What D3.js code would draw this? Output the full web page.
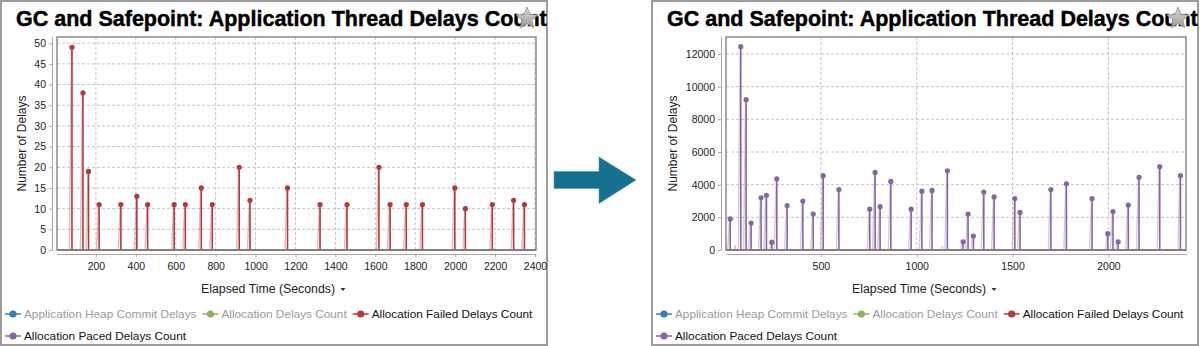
<!DOCTYPE html>
<html><head><meta charset="utf-8">
<script src="https://cdn.jsdelivr.net/npm/d3@7"></script>
<style>
html,body{margin:0;padding:0;background:#fff;}
svg{display:block;font-family:"Liberation Sans",Arial,sans-serif;}
</style></head>
<body>
<svg id="chart" width="1200" height="346"></svg>
<script>
// ---- data ----
const chartTitle = "GC and Safepoint: Application Thread Delays Count";
const xAxisTitle = "Elapsed Time (Seconds)";
const yAxisTitle = "Number of Delays";
const legendNames = ["Application Heap Commit Delays", "Allocation Delays Count", "Allocation Failed Delays Count", "Allocation Paced Delays Count"];
const legendActive = [false, false, true, true];
const legendRows = [[0, 1, 2], [3]];

// Left chart: Allocation Failed Delays Count
const failedTimes  = [80,135,163,216,325,405,459,592,648,728,783,918,972,1160,1323,1458,1618,1674,1755,1836,1998,2051,2186,2293,2347];
const failedCounts = [49,38,19,11,11,13,11,11,11,15,11,20,12,15,11,11,20,11,11,11,15,10,11,12,11];

// Right chart: Allocation Paced Delays Count
const pacedTimes  = [27,82,110,136,188,216,244,270,324,406,460,512,594,755,783,809,865,971,1027,1080,1160,1242,1268,1296,1350,1404,1512,1539,1700,1781,1915,1997,2024,2051,2104,2160,2268,2376];
const pacedCounts = [1900,12450,9200,1650,3200,3350,480,4350,2720,3000,2200,4550,3700,2500,4750,2650,4200,2500,3600,3650,4850,500,2200,850,3550,3250,3150,2300,3700,4050,3150,1000,2350,500,2750,4450,5100,4550];
const pacedMinorTimes  = [53,1134];
const pacedMinorCounts = [300,250];

const leftYTicks  = [0,5,10,15,20,25,30,35,40,45,50];
const leftXTicks  = [200,400,600,800,1000,1200,1400,1600,1800,2000,2200,2400];
const rightYTicks = [0,2000,4000,6000,8000,10000,12000];
const rightXTicks = [500,1000,1500,2000];
const xDomain = [5, 2405];
const leftYMax = 51.5;
const rightYMax = 13040;

// ---- styles ----
const colors = ["#3b7db3", "#8cb35e", "#b23a3a", "#8566a3"];
const svg = d3.select("#chart");

function starPath(cx, cy, R, r) {
  const pts = [];
  for (let i = 0; i < 10; i++) {
    const a = -Math.PI / 2 + i * Math.PI / 5;
    const rad = i % 2 === 0 ? R : r;
    pts.push([cx + rad * Math.cos(a), cy + rad * Math.sin(a)]);
  }
  return "M" + pts.map(p => p.join(",")).join("L") + "Z";
}

const defs = svg.append("defs");
const grad = defs.append("linearGradient").attr("id", "starGrad").attr("x1", 0).attr("y1", 0).attr("x2", 0).attr("y2", 1);
grad.append("stop").attr("offset", "0%").attr("stop-color", "#dcdcdc");
grad.append("stop").attr("offset", "100%").attr("stop-color", "#9a9a9a");

function drawPanel(cfg) {
  const g = svg.append("g").attr("transform", `translate(${cfg.ox},0)`);
  g.append("rect").attr("x", 1).attr("y", 1).attr("width", 546).attr("height", 344)
    .attr("fill", "#fff").attr("stroke", "#9c9c9c").attr("stroke-width", 2);

  const P = cfg.plot;
  const x = d3.scaleLinear().domain(xDomain).range([P.l, P.r]);
  const y = d3.scaleLinear().domain([0, cfg.yMax]).range([P.b, P.t]);

  // grid
  const grid = g.append("g");
  grid.selectAll(".gy").data(cfg.yTicks.filter(d => d > 0)).join("line")
    .attr("x1", P.l).attr("x2", P.r).attr("y1", d => y(d)).attr("y2", d => y(d))
    .attr("stroke", "#c4c4c4").attr("stroke-dasharray", "3,2").attr("stroke-width", 1);
  grid.selectAll(".gx").data(cfg.xTicks).join("line")
    .attr("y1", P.t).attr("y2", P.b).attr("x1", d => x(d)).attr("x2", d => x(d))
    .attr("stroke", "#c4c4c4").attr("stroke-dasharray", "3,2").attr("stroke-width", 1);

  // y axis
  const ya = g.append("g").attr("transform", `translate(${cfg.yAxisX},0)`)
    .call(d3.axisLeft(y).tickValues(cfg.yTicks).tickSize(3).tickSizeOuter(0).tickPadding(3).tickFormat(d3.format("d")));
  ya.select(".domain").attr("stroke", "#a8a8a8");
  ya.selectAll(".tick line").attr("stroke", "#a8a8a8");
  ya.selectAll("text").attr("font-size", 10.5).attr("fill", "#222").attr("font-family", "Liberation Sans, Arial, sans-serif");

  // x axis
  const xa = g.append("g").attr("transform", `translate(0,${P.b + 4})`)
    .call(d3.axisBottom(x).tickValues(cfg.xTicks).tickSize(3).tickSizeOuter(0).tickPadding(6).tickFormat(d3.format("d")));
  xa.select(".domain").attr("stroke", "#a8a8a8");
  xa.selectAll(".tick line").attr("stroke", "#a8a8a8");
  xa.selectAll("text").attr("font-size", 10.5).attr("fill", "#222").attr("font-family", "Liberation Sans, Arial, sans-serif");

  // spikes
  const marks = g.append("g");
  cfg.series.forEach(s => {
    const data = s.times.map((t, i) => ({ t, v: s.values[i] }));
    marks.append("g").selectAll("line").data(data).join("line")
      .attr("x1", d => x(d.t) - 2.5).attr("x2", d => x(d.t) - 0.6)
      .attr("y1", y(0)).attr("y2", d => y(d.v))
      .attr("stroke", s.color).attr("stroke-opacity", 0.35).attr("stroke-width", 1.4);
    marks.append("g").selectAll("line").data(data).join("line")
      .attr("x1", d => x(d.t)).attr("x2", d => x(d.t))
      .attr("y1", y(0)).attr("y2", d => y(d.v))
      .attr("stroke", s.color).attr("stroke-width", 1.6);
    if (s.minorTimes) {
      const md = s.minorTimes.map((t, i) => ({ t, v: s.minorValues[i] }));
      marks.append("g").selectAll("line").data(md).join("line")
        .attr("x1", d => x(d.t)).attr("x2", d => x(d.t))
        .attr("y1", y(0)).attr("y2", d => y(d.v))
        .attr("stroke", s.color).attr("stroke-opacity", 0.45).attr("stroke-width", 1.4);
    }
    marks.append("g").selectAll("circle").data(data).join("circle")
      .attr("cx", d => x(d.t)).attr("cy", d => y(d.v)).attr("r", 2.6)
      .attr("fill", s.color);
  });
  g.append("line").attr("x1", P.l).attr("x2", P.r).attr("y1", y(0)).attr("y2", y(0))
    .attr("stroke", cfg.baseColor).attr("stroke-width", 2);

  // plot border
  g.append("rect").attr("x", P.l).attr("y", P.t).attr("width", P.r - P.l).attr("height", P.b - P.t)
    .attr("fill", "none").attr("stroke", "#8a8a8a").attr("stroke-width", 1.5);

  // title
  g.append("text").attr("x", 16).attr("y", 25.5).attr("font-size", 21.5).attr("font-weight", "bold")
    .attr("fill", "#000").attr("stroke", "#000").attr("stroke-width", 0.45).text(chartTitle);
  g.append("path").attr("d", starPath(527, 18.5, 11.5, 5)).attr("fill", "url(#starGrad)")
    .attr("stroke", "#8e8e8e").attr("stroke-width", 0.8);

  // y axis title
  g.append("text").attr("transform", `translate(${cfg.yTitleX},${(P.t + P.b) / 2}) rotate(-90)`)
    .attr("text-anchor", "middle").attr("font-size", 12).attr("fill", "#222").text(yAxisTitle);

  // x axis title with dropdown marker
  const xt = g.append("text").attr("x", 268).attr("y", 293).attr("text-anchor", "middle")
    .attr("font-size", 12.3).attr("fill", "#222").text(xAxisTitle);
  const bb = xt.node().getBBox();
  const ax = bb.x + bb.width + 8;
  g.append("path").attr("d", `M${ax - 2.5},${288}L${ax + 2.5},${288}L${ax},${291}Z`).attr("fill", "#333");

  // legend
  legendRows.forEach((row, ri) => {
    let lx = 5;
    const ly = 314 + ri * 22;
    row.forEach(i => {
      const it = g.append("g");
      it.append("line").attr("x1", lx).attr("x2", lx + 16).attr("y1", ly).attr("y2", ly)
        .attr("stroke", colors[i]).attr("stroke-width", 1.5);
      it.append("circle").attr("cx", lx + 8).attr("cy", ly).attr("r", 3.6).attr("fill", colors[i]);
      const tt = it.append("text").attr("x", lx + 19).attr("y", ly + 4.3)
        .attr("font-size", 11.8)
        .attr("fill", legendActive[i] ? "#111" : "#9a9a9a").text(legendNames[i]);
      const w = tt.node().getComputedTextLength();
      lx += 19 + w + 6;
    });
  });
}

drawPanel({
  ox: 0,
  plot: { l: 57, r: 536, t: 37, b: 250 },
  yMax: leftYMax, yTicks: leftYTicks, xTicks: leftXTicks, yAxisX: 52, yTitleX: 26,
  series: [{ times: failedTimes, values: failedCounts, color: colors[2] }],
  baseColor: "#8d5252"
});
drawPanel({
  ox: 651,
  plot: { l: 75, r: 535, t: 37, b: 250 },
  yMax: rightYMax, yTicks: rightYTicks, xTicks: rightXTicks, yAxisX: 70, yTitleX: 26,
  series: [{ times: pacedTimes, values: pacedCounts, color: colors[3], minorTimes: pacedMinorTimes, minorValues: pacedMinorCounts }],
  baseColor: "#9e4a4a"
});

// arrow between panels
svg.append("path")
  .attr("d", "M554,171.5L599,171.5L599,157L636,180L599,203.5L599,188.5L554,188.5Z")
  .attr("fill", "#15718f").attr("stroke", "#4f95ad").attr("stroke-width", 0.6);
</script>
</body></html>
